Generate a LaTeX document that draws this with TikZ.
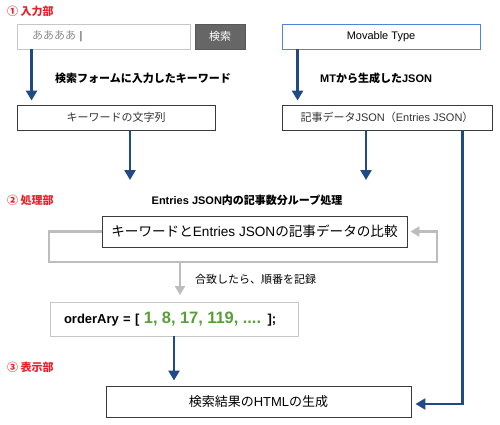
\documentclass[tikz,border=0pt]{standalone}
\usepackage{fontspec}
\setmainfont{Liberation Sans}
\newfontfamily\jp{Noto Sans CJK JP}
\usepackage{xcolor}
\usetikzlibrary{arrows.meta,positioning}
\definecolor{navy}{HTML}{1F4A85}
\definecolor{loopgray}{HTML}{BDBDBD}
\definecolor{lightline}{HTML}{C6C6C6}
\definecolor{darkline}{HTML}{3A3A3A}
\definecolor{textgray}{HTML}{333333}
\definecolor{hintgray}{HTML}{8A8A8A}
\definecolor{mtblue}{HTML}{4A86E0}
\definecolor{secred}{HTML}{E8202A}
\definecolor{numgreen}{HTML}{5A9E3A}
\definecolor{btngray}{HTML}{666666}

\begin{document}
\begin{tikzpicture}[x=1pt, y=-1pt, every node/.style={font=\fontsize{11}{13}\selectfont, inner sep=0pt},
  box/.style={draw=darkline, line width=0.9pt, minimum height=25pt, text=textgray},
  seclabel/.style={anchor=west, text=secred, font=\fontsize{11}{13}\selectfont\bfseries\jp},
  flowlabel/.style={anchor=west, font=\fontsize{11}{13}\selectfont\bfseries},
  navyarrow/.style={draw=navy, line width=2.6pt, -{Triangle[width=11pt,length=10pt]}},
  grayarrow/.style={draw=loopgray, line width=2.6pt, -{Triangle[width=10pt,length=9pt]}}]
\useasboundingbox (0,0) rectangle (500,424);

% 1: input
\node (sec1) [seclabel] at (7,11) {① 入力部};
\node (search) [draw=lightline, line width=0.9pt, minimum height=25pt, text width=143pt, inner xsep=15pt, align=left] at (103.5,36.5) {{\jp\color{hintgray}ああああ} {\color{textgray}|}};
\node (btn) [draw=btngray!85!black, fill=btngray, minimum width=50pt, minimum height=25pt, text=white] at (220,36.5) {\jp 検索};
\node (mt) [draw=mtblue, line width=0.9pt, minimum width=198pt, minimum height=25pt] at (381,36.5) {Movable Type};

\node (lbl1) [flowlabel] at (55,78) {\jp 検索フォームに入力したキーワード};
\node (lbl2) [flowlabel] at (320,78) {MT{\jp から生成した}JSON};

\node (kw) [box, minimum width=198pt] at (116,117.5) {\jp キーワードの文字列};
\node (json) [box, minimum width=210pt] at (387,117.5) {{\jp 記事データ}JSON{\jp （}Entries JSON{\jp ）}};

\draw[navyarrow, shorten >=4pt] ([xshift=15pt]search.south west) -- ([xshift=15pt]kw.north west);
\draw[navyarrow, shorten >=4pt] ([xshift=16pt]mt.south west) -- ([xshift=16pt]json.north west);

% 2: loop
\node (sec2) [seclabel] at (7,200) {② 処理部};
\coordinate (in1) at (130,180);
\coordinate (in2) at (366,180);
\draw[navyarrow] (kw.south -| in1) -- (in1);
\draw[navyarrow] (json.south -| in2) -- (in2);
\node (looplbl) [font=\fontsize{11}{13}\selectfont\bfseries] at (247,200) {Entries JSON{\jp 内の記事数分ループ処理}};

\node (cmp) [box, minimum width=305pt, minimum height=31pt, text=black, font=\fontsize{13.6}{16}\selectfont] at (254.5,231.5) {{\jp キーワードと}Entries JSON{\jp の記事データの比較}};
\coordinate (lpL) at (49,262);
\coordinate (lpM) at (180,262);
\coordinate (lpR) at (437,262);
\draw[grayarrow, shorten >=3pt] (cmp.west) -| (lpL) -- (lpR) |- (cmp.east);
\draw[grayarrow, shorten >=7pt] (lpM) -- (lpM |- 0,302);
\node (hitlbl) [anchor=west] at (195,279) {\jp 合致したら、順番を記録};

\node (ord) [draw=lightline, line width=0.9pt, minimum width=248pt, minimum height=34pt, text width=220pt, inner xsep=14pt, align=left, font=\fontsize{13}{16}\selectfont\bfseries] at (174,319) {orderAry = [ {\fontsize{16.5}{18}\selectfont\color{numgreen}1, 8, 17, 119, ....} ];};

% 3: output
\node (sec3) [seclabel] at (7,367) {③ 表示部};
\node (html) [box, minimum width=305pt, minimum height=31pt, text=black, font=\fontsize{13}{16}\selectfont] at (258.5,401.5) {{\jp 検索結果の}HTML{\jp の生成}};

\draw[navyarrow, shorten >=5pt] (ord.south) -- (ord.south |- html.north);
\draw[navyarrow, shorten >=4pt] ([xshift=-30pt]json.south east) |- ([yshift=-2.5pt]html.east);
\end{tikzpicture}
\end{document}
